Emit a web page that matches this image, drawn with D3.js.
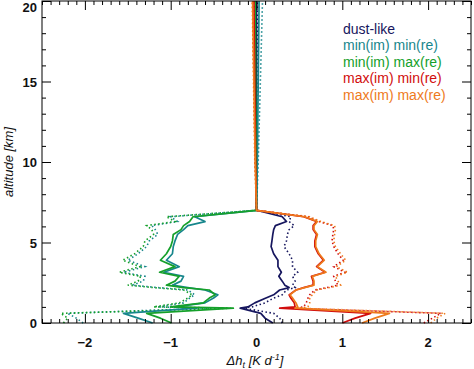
<!DOCTYPE html>
<html><head><meta charset="utf-8">
<script src="https://cdn.jsdelivr.net/npm/d3@7"></script>
<style>
html,body{margin:0;padding:0;background:#fff;}
svg text{font-family:"Liberation Sans",Arial,Helvetica,sans-serif;}
</style></head>
<body><svg id="c" width="474" height="369"></svg>
<script>
// altitude levels (km)
const altitude = [0, 0.3, 0.6, 0.92, 1.0, 1.25, 1.55, 1.75, 2.05, 2.2, 2.35, 2.6, 2.9, 3.15, 3.5, 3.9, 4.3, 4.75, 5.1, 5.5, 5.8, 6.05, 6.3, 6.6, 7.0, 10, 15, 20];

// series names / legend
const seriesNames = ["dust-like", "min(im) min(re)", "min(im) max(re)", "max(im) min(re)", "max(im) max(re)"];
const seriesColors = ["#16165e", "#17868c", "#15a02a", "#d10d0d", "#ee7a1c"];

// solid profiles
const dustSolid   = [0.19, 0.1, 0.05, -0.19, -0.1, -0.02, 0.11, 0.2, 0.27, 0.38, 0.33, 0.3, 0.26, 0.29, 0.25, 0.25, 0.2, 0.17, 0.18, 0.19, 0.2, 0.22, 0.35, 0.3, 0, 0, 0, 0];
const minMinSolid = [-1.21, -1.38, -1.55, -0.7, -0.95, -0.6, -0.5, -0.45, -0.6, -0.8, -0.98, -0.88, -0.85, -1.08, -0.9, -1.05, -0.98, -0.97, -0.95, -0.92, -0.85, -0.8, -0.6, -0.72, 0, 0.01, 0.02, 0.03];
const minMaxSolid = [-0.99, -1.12, -1.28, -0.27, -1.0, -0.62, -0.55, -0.48, -0.55, -0.85, -1.05, -0.95, -0.9, -1.13, -0.95, -1.12, -1.05, -1.0, -0.98, -0.97, -0.88, -0.85, -0.78, -0.74, 0, -0.005, -0.01, -0.015];
const maxMinSolid = [1.0, 1.15, 1.33, 0.27, 0.45, 0.44, 0.4, 0.38, 0.46, 0.55, 0.66, 0.66, 0.64, 0.8, 0.7, 0.78, 0.72, 0.68, 0.68, 0.7, 0.66, 0.66, 0.7, 0.55, 0, -0.01, -0.02, -0.03];
const maxMaxSolid = [1.23, 1.38, 1.55, 0.45, 0.48, 0.46, 0.42, 0.39, 0.46, 0.56, 0.67, 0.67, 0.65, 0.81, 0.71, 0.79, 0.73, 0.69, 0.69, 0.71, 0.67, 0.67, 0.71, 0.56, 0, -0.015, -0.03, -0.045];

// dotted profiles
const dustDotted   = [0.3, 0.27, 0.2, -0.15, -0.05, 0.1, 0.2, 0.3, 0.35, 0.45, 0.42, 0.45, 0.42, 0.48, 0.42, 0.42, 0.38, 0.32, 0.35, 0.36, 0.38, 0.44, 0.38, 0.4, 0, 0, 0.005, 0.01];
const minMinDotted = [-2.02, -2.1, -2.2, -0.55, -1.15, -0.85, -0.78, -0.72, -0.8, -1.15, -1.45, -1.32, -1.3, -1.55, -1.3, -1.5, -1.38, -1.28, -1.25, -1.15, -1.18, -1.22, -0.92, -1.0, 0, 0.02, 0.045, 0.07];
const minMaxDotted = [-2.25, -2.2, -2.28, -0.3, -1.2, -0.9, -0.8, -0.75, -0.85, -1.2, -1.5, -1.38, -1.35, -1.6, -1.36, -1.56, -1.42, -1.32, -1.3, -1.2, -1.22, -1.28, -0.95, -1.05, 0, -0.01, -0.015, -0.02];
const maxMinDotted = [1.95, 2.05, 2.15, 0.4, 0.55, 0.58, 0.6, 0.62, 0.68, 0.82, 0.95, 0.92, 0.9, 1.03, 0.9, 1.01, 0.95, 0.9, 0.88, 0.89, 0.9, 0.89, 0.73, 0.6, 0, -0.015, -0.03, -0.045];
const maxMaxDotted = [2.03, 2.1, 2.2, 0.5, 0.6, 0.62, 0.62, 0.65, 0.7, 0.85, 0.98, 0.95, 0.92, 1.06, 0.93, 1.04, 0.98, 0.92, 0.9, 0.91, 0.92, 0.91, 0.75, 0.62, 0, -0.02, -0.035, -0.05];

const xTicks = [-2, -1, 0, 1, 2];
const yTicks = [0, 5, 10, 15, 20];

const svg = d3.select("#c");
const padL = 42, padR = 471, padT = 1, padB = 323;
const x = d3.scaleLinear().domain([-2.5, 2.5]).range([padL, padR]);
const y = d3.scaleLinear().domain([0, 20]).range([padB, padT]);

const solids = [dustSolid, minMinSolid, minMaxSolid, maxMinSolid, maxMaxSolid];
const dotteds = [dustDotted, minMinDotted, minMaxDotted, maxMinDotted, maxMaxDotted];

const line = d3.line().x(d => x(d[0])).y(d => y(d[1]));
const g = svg.append("g");
const drawOrder = [0, 1, 2, 3, 4];
drawOrder.forEach(i => {
  g.append("path").datum(dotteds[i].map((v, k) => [v, altitude[k]]))
    .attr("d", line).attr("fill", "none").attr("stroke", seriesColors[i])
    .attr("stroke-width", 1.6).attr("stroke-dasharray", "1.5,2.5");
});
drawOrder.forEach(i => {
  g.append("path").datum(solids[i].map((v, k) => [v, altitude[k]]))
    .attr("d", line).attr("fill", "none").attr("stroke", seriesColors[i])
    .attr("stroke-width", 1.7).attr("stroke-linejoin", "round");
});

const minorX = d3.range(-25, 26).map(d => d / 10);
const minorY = d3.range(0, 21);
const frame = svg.append("g").attr("stroke", "#000").attr("stroke-width", 1).attr("fill", "none");
frame.append("rect").attr("x", padL).attr("y", padT).attr("width", padR - padL).attr("height", padB - padT);

function isMajorX(v){ return Math.abs(v - Math.round(v)) < 1e-6; }
svg.append("g").attr("transform", `translate(0,${padB})`)
  .call(d3.axisTop(x).tickValues(minorX).tickFormat("").tickSizeOuter(0).tickSize(4))
  .call(a => a.select(".domain").remove())
  .call(a => a.selectAll(".tick line").attr("y2", d => isMajorX(d) ? -9 : -4));
svg.append("g").attr("transform", `translate(0,${padT})`)
  .call(d3.axisBottom(x).tickValues(minorX).tickFormat("").tickSizeOuter(0).tickSize(4))
  .call(a => a.select(".domain").remove())
  .call(a => a.selectAll(".tick line").attr("y2", d => isMajorX(d) ? 9 : 4));
svg.append("g").attr("transform", `translate(${padL},0)`)
  .call(d3.axisRight(y).tickValues(minorY).tickFormat("").tickSizeOuter(0).tickSize(4))
  .call(a => a.select(".domain").remove())
  .call(a => a.selectAll(".tick line").attr("x2", d => d % 5 === 0 ? 9 : 4));
svg.append("g").attr("transform", `translate(${padR},0)`)
  .call(d3.axisLeft(y).tickValues(minorY).tickFormat("").tickSizeOuter(0).tickSize(4))
  .call(a => a.select(".domain").remove())
  .call(a => a.selectAll(".tick line").attr("x2", d => d % 5 === 0 ? -9 : -4));

svg.append("g").selectAll("text").data(xTicks).join("text")
  .attr("x", d => x(d)).attr("y", 347).attr("text-anchor", "middle")
  .attr("font-size", 13).attr("font-weight", "bold").attr("fill", "#111").text(d => d3.format("d")(d));
svg.append("g").selectAll("text").data(yTicks).join("text")
  .attr("x", 37).attr("y", d => Math.max(y(d) + 5, 12)).attr("text-anchor", "end")
  .attr("font-size", 13).attr("font-weight", "bold").attr("fill", "#111").text(d => d);

svg.append("text").attr("transform", "translate(13,162) rotate(-90)")
  .attr("text-anchor", "middle").attr("font-size", 13).attr("font-style", "italic")
  .attr("fill", "#111").text("altitude [km]");
const xt = svg.append("text").attr("x", 255).attr("y", 365).attr("text-anchor", "middle")
  .attr("font-size", 13).attr("font-style", "italic").attr("fill", "#111");
xt.append("tspan").text("Δh");
xt.append("tspan").attr("font-size", 9).attr("dy", 3).text("t");
xt.append("tspan").attr("dy", -3).text(" [K d");
xt.append("tspan").attr("font-size", 9).attr("dy", -5).text("-1");
xt.append("tspan").attr("dy", 5).text("]");

svg.append("g").selectAll("text").data(seriesNames).join("text")
  .attr("x", 343).attr("y", (d, i) => 34 + i * 16.4)
  .attr("font-size", 14).attr("fill", (d, i) => seriesColors[i]).text(d => d);
</script></body></html>
